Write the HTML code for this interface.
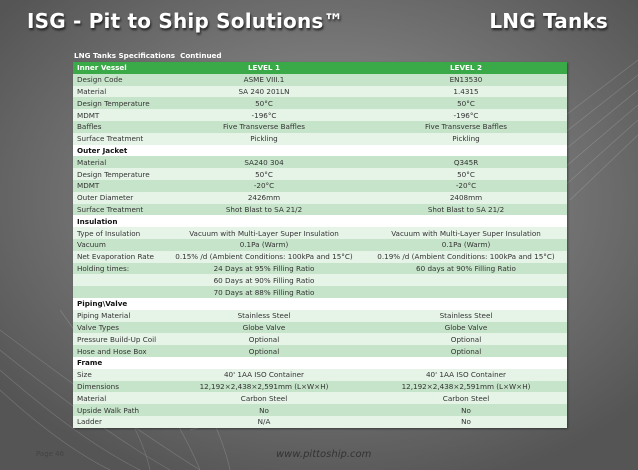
<!DOCTYPE html>
<html><head><meta charset="utf-8"><style>
*{margin:0;padding:0;box-sizing:border-box}
body{width:638px;height:470px;overflow:hidden;position:relative;font-family:"DejaVu Sans","Liberation Sans",sans-serif;
background:radial-gradient(ellipse 420px 300px at 330px 200px,#9a9a9a 0%,#7a7a7a 45%,#555 100%);}
.t{position:absolute;top:9px;color:#fff;font-weight:bold;font-size:20px;text-shadow:1px 2px 2px #222;letter-spacing:0.2px}
.cap{position:absolute;left:74px;top:51px;font-size:7.2px;font-weight:bold;color:#fff}
table{position:absolute;left:73px;top:62px;width:494px;border-collapse:collapse;font-size:7.2px;color:#333;box-shadow:1px 1px 2px rgba(0,0,0,.4)}
td{height:11.8px;padding:0 4px;white-space:nowrap;line-height:11px}
td:nth-child(2),td:nth-child(3){text-align:center}
tr.h td{background:#3aaa48;color:#fff;font-weight:bold}
tr.d td{background:#c6e4c9}
tr.l td{background:#e6f3e7}
tr.s td{background:#fff;color:#111;font-weight:bold}
.f{position:absolute;top:450px;font-size:7px;color:#444}
.w{position:absolute;left:276px;top:449px;font-size:10px;font-style:italic;color:#333}
</style></head><body>
<svg width="638" height="470" style="position:absolute;left:0;top:0" fill="none" stroke="rgba(255,255,255,0.18)" stroke-width="0.7">
<path d="M520 150 L638 60 M530 160 L638 75 M540 170 L638 90 M550 180 L638 105 M560 190 L638 120 M570 200 L638 135"/>
<path d="M0 330 Q120 420 200 470 M0 350 Q100 430 170 470 M0 370 Q80 440 140 470 M0 390 Q60 445 110 470 M60 310 Q140 420 150 470 M100 300 Q180 420 200 470 M150 300 Q220 420 230 470 M190 430 Q230 420 250 400"/>
</svg>
<div class="t" style="left:27px">ISG - Pit to Ship Solutions™</div>
<div class="t" style="right:30px">LNG Tanks</div>
<div class="cap">LNG Tanks Specifications&nbsp; Continued</div>
<table>
<colgroup><col style="width:90px"><col style="width:202px"><col></colgroup>
<tr class="h"><td>Inner Vessel</td><td>LEVEL 1</td><td>LEVEL 2</td></tr>
<tr class="d"><td>Design Code</td><td>ASME VIII.1</td><td>EN13530</td></tr>
<tr class="l"><td>Material</td><td>SA 240 201LN</td><td>1.4315</td></tr>
<tr class="d"><td>Design Temperature</td><td>50°C</td><td>50°C</td></tr>
<tr class="l"><td>MDMT</td><td>-196°C</td><td>-196°C</td></tr>
<tr class="d"><td>Baffles</td><td>Five Transverse Baffles</td><td>Five Transverse Baffles</td></tr>
<tr class="l"><td>Surface Treatment</td><td>Pickling</td><td>Pickling</td></tr>
<tr class="s"><td>Outer Jacket</td><td></td><td></td></tr>
<tr class="d"><td>Material</td><td>SA240 304</td><td>Q345R</td></tr>
<tr class="l"><td>Design Temperature</td><td>50°C</td><td>50°C</td></tr>
<tr class="d"><td>MDMT</td><td>-20°C</td><td>-20°C</td></tr>
<tr class="l"><td>Outer Diameter</td><td>2426mm</td><td>2408mm</td></tr>
<tr class="d"><td>Surface Treatment</td><td>Shot Blast to SA 21/2</td><td>Shot Blast to SA 21/2</td></tr>
<tr class="s"><td>Insulation</td><td></td><td></td></tr>
<tr class="l"><td>Type of Insulation</td><td>Vacuum with Multi-Layer Super Insulation</td><td>Vacuum with Multi-Layer Super Insulation</td></tr>
<tr class="d"><td>Vacuum</td><td>0.1Pa (Warm)</td><td>0.1Pa (Warm)</td></tr>
<tr class="l"><td>Net Evaporation Rate</td><td>0.15% /d (Ambient Conditions: 100kPa and 15°C)</td><td>0.19% /d (Ambient Conditions: 100kPa and 15°C)</td></tr>
<tr class="d"><td>Holding times:</td><td>24 Days at 95% Filling Ratio</td><td>60 days at 90% Filling Ratio</td></tr>
<tr class="l"><td></td><td>60 Days at 90% Filling Ratio</td><td></td></tr>
<tr class="d"><td></td><td>70 Days at 88% Filling Ratio</td><td></td></tr>
<tr class="s"><td>Piping\Valve</td><td></td><td></td></tr>
<tr class="l"><td>Piping Material</td><td>Stainless Steel</td><td>Stainless Steel</td></tr>
<tr class="d"><td>Valve Types</td><td>Globe Valve</td><td>Globe Valve</td></tr>
<tr class="l"><td>Pressure Build-Up Coil</td><td>Optional</td><td>Optional</td></tr>
<tr class="d"><td>Hose and Hose Box</td><td>Optional</td><td>Optional</td></tr>
<tr class="s"><td>Frame</td><td></td><td></td></tr>
<tr class="l"><td>Size</td><td>40' 1AA ISO Container</td><td>40' 1AA ISO Container</td></tr>
<tr class="d"><td>Dimensions</td><td>12,192×2,438×2,591mm (L×W×H)</td><td>12,192×2,438×2,591mm (L×W×H)</td></tr>
<tr class="l"><td>Material</td><td>Carbon Steel</td><td>Carbon Steel</td></tr>
<tr class="d"><td>Upside Walk Path</td><td>No</td><td>No</td></tr>
<tr class="l"><td>Ladder</td><td>N/A</td><td>No</td></tr>
</table>
<div class="f" style="left:36px">Page 46</div>
<div class="w">www.pittoship.com</div>
</body></html>
